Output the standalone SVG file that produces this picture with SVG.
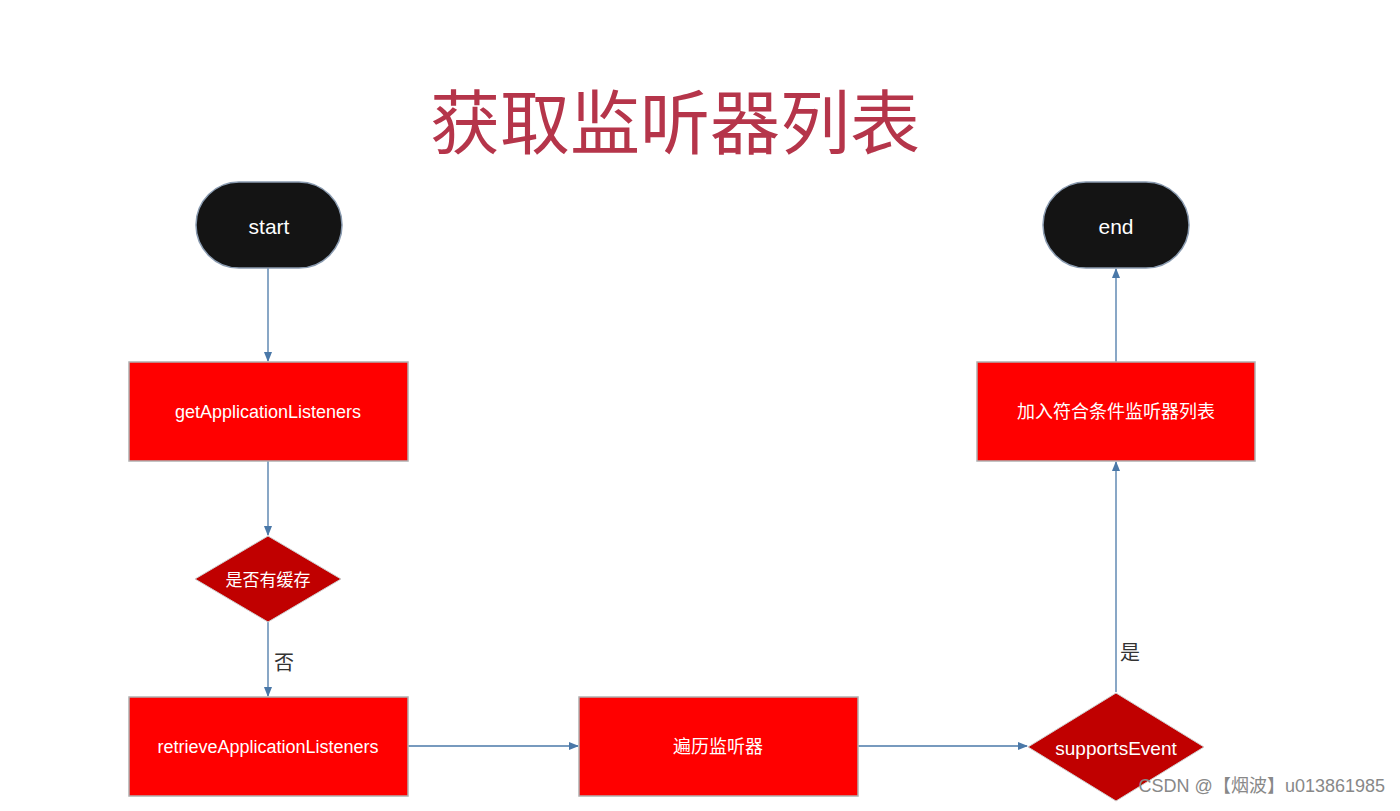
<svg xmlns="http://www.w3.org/2000/svg" width="1400" height="811" viewBox="0 0 1400 811">
<style>
.t{font-family:"Liberation Sans","Noto Sans CJK SC",sans-serif;fill:#fff;text-anchor:middle;dominant-baseline:central}
.box{fill:#ff0000;stroke:#b0b0b0;stroke-width:1.5}
.dia{fill:#c00000;stroke:#d0d0d0;stroke-width:1}
.pill{fill:#141414;stroke:#8a9bb0;stroke-width:1.5}
.c{stroke:#4a78a8;stroke-width:1.3;fill:none;marker-end:url(#a)}
.lbl{font-family:"Noto Sans CJK SC",sans-serif;fill:#333;font-size:20px;text-anchor:middle;dominant-baseline:central}
</style>
<defs><marker id="a" viewBox="0 0 10 10" refX="9" refY="5" markerWidth="8" markerHeight="8" orient="auto"><path d="M0,1 L10,5 L0,9 z" fill="#4a78a8"/></marker></defs>
<rect width="1400" height="811" fill="#fff"/>
<text x="675" y="118" font-family="Noto Sans CJK SC,sans-serif" font-size="70" fill="#b5354a" text-anchor="middle" dominant-baseline="central">获取监听器列表</text>
<g id="connectors">
<path class="c" d="M268,268 V361"/>
<path class="c" d="M268,461 V535"/>
<path class="c" d="M268,622 V696"/>
<path class="c" d="M408,746 H578"/>
<path class="c" d="M858,746 H1027"/>
<path class="c" d="M1116,692 V462"/>
<path class="c" d="M1116,362 V269"/>
</g>
<text class="lbl" x="284" y="661">否</text>
<text class="lbl" x="1130" y="651">是</text>
<g id="start"><rect class="pill" x="196" y="182" width="146" height="86" rx="43"/><text class="t" x="269" y="226" font-size="21">start</text></g>
<g id="end"><rect class="pill" x="1043" y="182" width="146" height="86" rx="43"/><text class="t" x="1116" y="226" font-size="21">end</text></g>
<g id="get"><rect class="box" x="129" y="362" width="279" height="99"/><text class="t" x="268" y="412" font-size="18">getApplicationListeners</text></g>
<g id="cache"><path class="dia" d="M268,536 L341,579 L268,622 L195,579 z"/><text class="t" x="268" y="580" font-size="17">是否有缓存</text></g>
<g id="retrieve"><rect class="box" x="129" y="697" width="279" height="99"/><text class="t" x="268" y="747" font-size="18">retrieveApplicationListeners</text></g>
<g id="iter"><rect class="box" x="579" y="697" width="279" height="99"/><text class="t" x="718" y="747" font-size="18">遍历监听器</text></g>
<g id="supports"><path class="dia" d="M1116,693 L1204,747 L1116,801 L1028,747 z"/><text class="t" x="1116" y="748" font-size="19">supportsEvent</text></g>
<g id="add"><rect class="box" x="977" y="362" width="278" height="99"/><text class="t" x="1116" y="412" font-size="18">加入符合条件监听器列表</text></g>
<text x="1385" y="792" font-family="Liberation Sans,Noto Sans CJK SC,sans-serif" font-size="18" fill="#888" text-anchor="end">CSDN @【烟波】u013861985</text>
</svg>
